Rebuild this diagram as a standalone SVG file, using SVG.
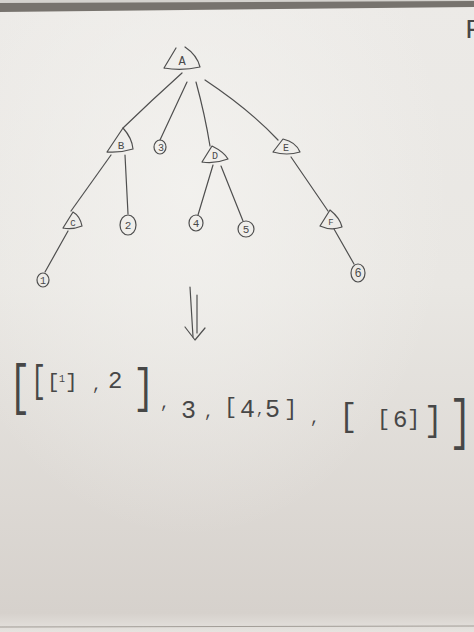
<svg xmlns="http://www.w3.org/2000/svg" width="474" height="632" viewBox="0 0 474 632">
<defs>
<linearGradient id="bg" x1="0" y1="0" x2="0" y2="1">
<stop offset="0" stop-color="#eceae7"/>
<stop offset="0.45" stop-color="#e9e7e3"/>
<stop offset="0.97" stop-color="#d6d1cc"/>
<stop offset="1" stop-color="#e6e3df"/>
</linearGradient>
<radialGradient id="glow" cx="0.4" cy="0.3" r="0.55">
<stop offset="0" stop-color="#f4f3f0" stop-opacity="0.8"/>
<stop offset="1" stop-color="#f4f3f0" stop-opacity="0"/>
</radialGradient>
<style>
.pen{fill:none;stroke:#4f4f4f;stroke-width:1.2;stroke-linecap:round;stroke-linejoin:round}
.lbl{font-family:"Liberation Mono",monospace;fill:#4a4a4a;text-anchor:middle}
.hw{font-family:"Liberation Mono",monospace;fill:#474747}
</style>
</defs>
<rect width="474" height="632" fill="url(#bg)"/>
<rect width="474" height="632" fill="url(#glow)"/>
<rect width="474" height="4" fill="#d4d2ce"/>
<polygon points="0,3 474,1 474,7 0,12" fill="#77736e"/>
<line x1="0" y1="627" x2="474" y2="626" stroke="#a29d97" stroke-width="1"/>
<text class="hw" x="465" y="38" font-size="28">F</text>
<g id="connectors" class="pen">
<path d="M182,73 Q152,100 123,128"/>
<path d="M187,82 L160,140"/>
<path d="M196,82 Q205,115 210,146"/>
<path d="M205,80 Q250,110 278,140"/>
<path d="M111,155 L71,211"/>
<path d="M125,155 L128,214"/>
<path d="M68,231 L45,272"/>
<path d="M213,165 L198,215"/>
<path d="M221,166 L243,221"/>
<path d="M291,157 L328,211"/>
<path d="M334,229 L354,264"/>
</g>
<g id="node-A"><path class="pen" d="M164,68 L176,48 M185,47 Q197,55 200,67 Q182,71 164,68"/><text class="lbl" x="182" y="65" font-size="12">A</text></g>
<g id="node-B"><path class="pen" d="M107,152 L123,128 Q132,138 133,149 Q120,153 107,152"/><text class="lbl" x="121" y="149" font-size="11">B</text></g>
<g id="node-3"><ellipse class="pen" cx="160" cy="147" rx="6" ry="7"/><text class="lbl" x="161" y="151" font-size="10">3</text></g>
<g id="node-D"><path class="pen" d="M202,162 L212,146 Q224,152 228,159 Q215,164 202,162"/><text class="lbl" x="215" y="159" font-size="10">D</text></g>
<g id="node-E"><path class="pen" d="M273,152 L283,139 Q296,142 300,152 Q287,156 273,152"/><text class="lbl" x="286" y="151" font-size="10">E</text></g>
<g id="node-C"><path class="pen" d="M63,228 L73,212 Q80,216 82,226 Q72,230 63,228"/><text class="lbl" x="73" y="226" font-size="9">C</text></g>
<g id="node-2"><ellipse class="pen" cx="128" cy="225" rx="8" ry="10"/><text class="lbl" x="128" y="229" font-size="11">2</text></g>
<g id="node-4"><ellipse class="pen" cx="196" cy="223" rx="7" ry="8"/><text class="lbl" x="196" y="227" font-size="11">4</text></g>
<g id="node-5"><ellipse class="pen" cx="246" cy="229" rx="8" ry="8"/><text class="lbl" x="246" y="233" font-size="11">5</text></g>
<g id="node-F"><path class="pen" d="M320,226 L330,210 Q340,218 342,227 Q331,231 320,226"/><text class="lbl" x="331" y="225" font-size="9">F</text></g>
<g id="node-1"><ellipse class="pen" cx="43" cy="280" rx="6" ry="7"/><text class="lbl" x="43" y="284" font-size="10">1</text></g>
<g id="node-6"><ellipse class="pen" cx="358" cy="273" rx="7" ry="9"/><text class="lbl" x="358" y="277" font-size="12">6</text></g>
<g id="arrow" class="pen">
<path d="M190,287 L193,337"/>
<path d="M197,295 L197,333"/>
<path d="M185,327 L195,340 L205,328"/>
</g>
<g id="result">
<text class="hw" font-size="24" transform="translate(9,403) scale(1.5,2.35)">[</text>
<text class="hw" font-size="22" transform="translate(31,392) scale(1.15,1.8)">[</text>
<text class="hw" font-size="21" x="47" y="388">[<tspan x="59" y="382" font-size="10">1</tspan><tspan x="65" y="388">]</tspan></text>
<text class="hw" font-size="16" x="92" y="390">,</text>
<text class="hw" font-size="24" x="108" y="388">2</text>
<text class="hw" font-size="24" transform="translate(133,402) scale(1.5,2)">]</text>
<text class="hw" font-size="16" x="160" y="408">,</text>
<text class="hw" font-size="25" x="181" y="418">3</text>
<text class="hw" font-size="16" x="204" y="417">,</text>
<text class="hw" font-size="22" x="224" y="413">[<tspan x="240" y="417" font-size="25">4</tspan><tspan x="256" y="414" font-size="14">,</tspan><tspan x="265" y="417" font-size="25">5</tspan><tspan x="284" y="415">]</tspan></text>
<text class="hw" font-size="16" x="310" y="423">,</text>
<text class="hw" font-size="22" transform="translate(339,426) scale(1.4,1.5)">[</text>
<text class="hw" font-size="22" x="377" y="425">[<tspan x="393" y="427" font-size="24">6</tspan><tspan x="407" y="425">]</tspan></text>
<text class="hw" font-size="22" transform="translate(424,431) scale(1.4,1.6)">]</text>
<text class="hw" font-size="24" transform="translate(449,438) scale(1.6,2.3)">]</text>
</g>
</svg>
